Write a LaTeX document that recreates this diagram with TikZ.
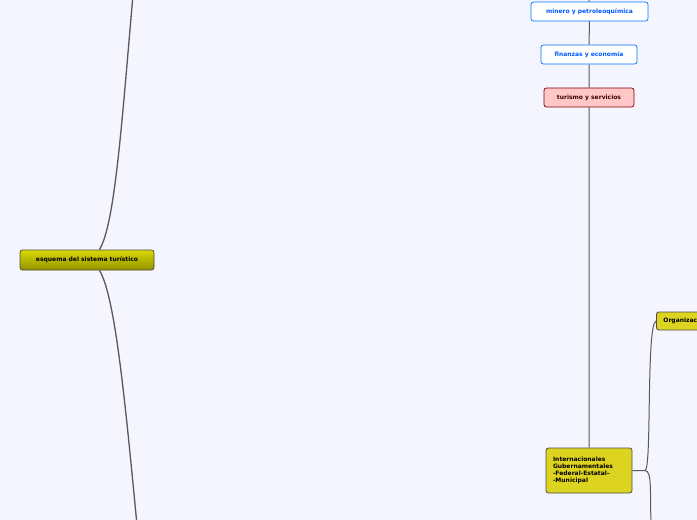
\documentclass[tikz,border=0pt]{standalone}
\usepackage{fontspec}
\setmainfont{DejaVu Sans}
\usetikzlibrary{backgrounds}
\begin{document}
\begin{tikzpicture}[x=1pt,y=-1pt,
  base/.style={rounded corners=2.5pt,font=\bfseries\fontsize{6}{7}\selectfont},
  blue/.style={base,draw=blue!55!cyan,fill=white,line width=0.7pt,text=blue!65!cyan,minimum height=19pt,inner xsep=4pt},
  pink/.style={base,draw=black!50!red,fill=red!22!white,line width=0.7pt,text=black!75!red,minimum height=19pt},
  yel/.style={base,draw=black!70,fill=yellow!85!black,line width=0.8pt,text=black},
  con/.style={draw=gray!70!black,line width=1.3pt}]
\clip (0,0) rectangle (697,520);
\useasboundingbox (0,0) rectangle (697,520);
\coordinate (top) at (589,-5);
\node[blue,minimum width=117pt] (min) at (589.5,11.5) {minero y petroleoquímica};
\node[blue,minimum width=96pt] (fin) at (589,54.5) {finanzas y economía};
\node[pink,minimum width=90pt] (tur) at (589,97.5) {turismo y servicios};
\node[yel,align=left,minimum width=86pt,minimum height=45pt,text width=72pt] (int) at (589,470.5) {Internacionales\\Gubernamentales\\-Federal-Estatal--\\-Municipal};
\node[yel,anchor=west,minimum height=18pt,inner xsep=7pt] (org) at (656,321) {Organizaciones};
\node[yel,shading=axis,top color=yellow!85!black,bottom color=olive!85!yellow,minimum width=134pt,minimum height=20pt] (root) at (87,260) {esquema del sistema turístico};
\coordinate (ru) at (133,-5);
\coordinate (rd) at (137,525);
\coordinate (br) at (645,470.5);
\coordinate (dn) at (651,525);
\begin{scope}[on background layer]
\fill[blue!4] (0,0) rectangle (697,520);
\draw[con] (root.north east)++(-55,0) .. controls (115,225) and (122,120) .. (ru);
\draw[con] (root.south east)++(-55,0) .. controls (115,295) and (125,400) .. (rd);
\draw[con,line width=1pt] (top) -- (min) (min) -- (fin) (fin) -- (tur) (tur) -- (int);
\draw[con,line width=1pt] (int.east) -- (br) .. controls (652,470) and (646,325) .. (org.west);
\draw[con,line width=1pt] (br) .. controls (652,471) and (650,490) .. (dn);
\end{scope}
\end{tikzpicture}
\end{document}
